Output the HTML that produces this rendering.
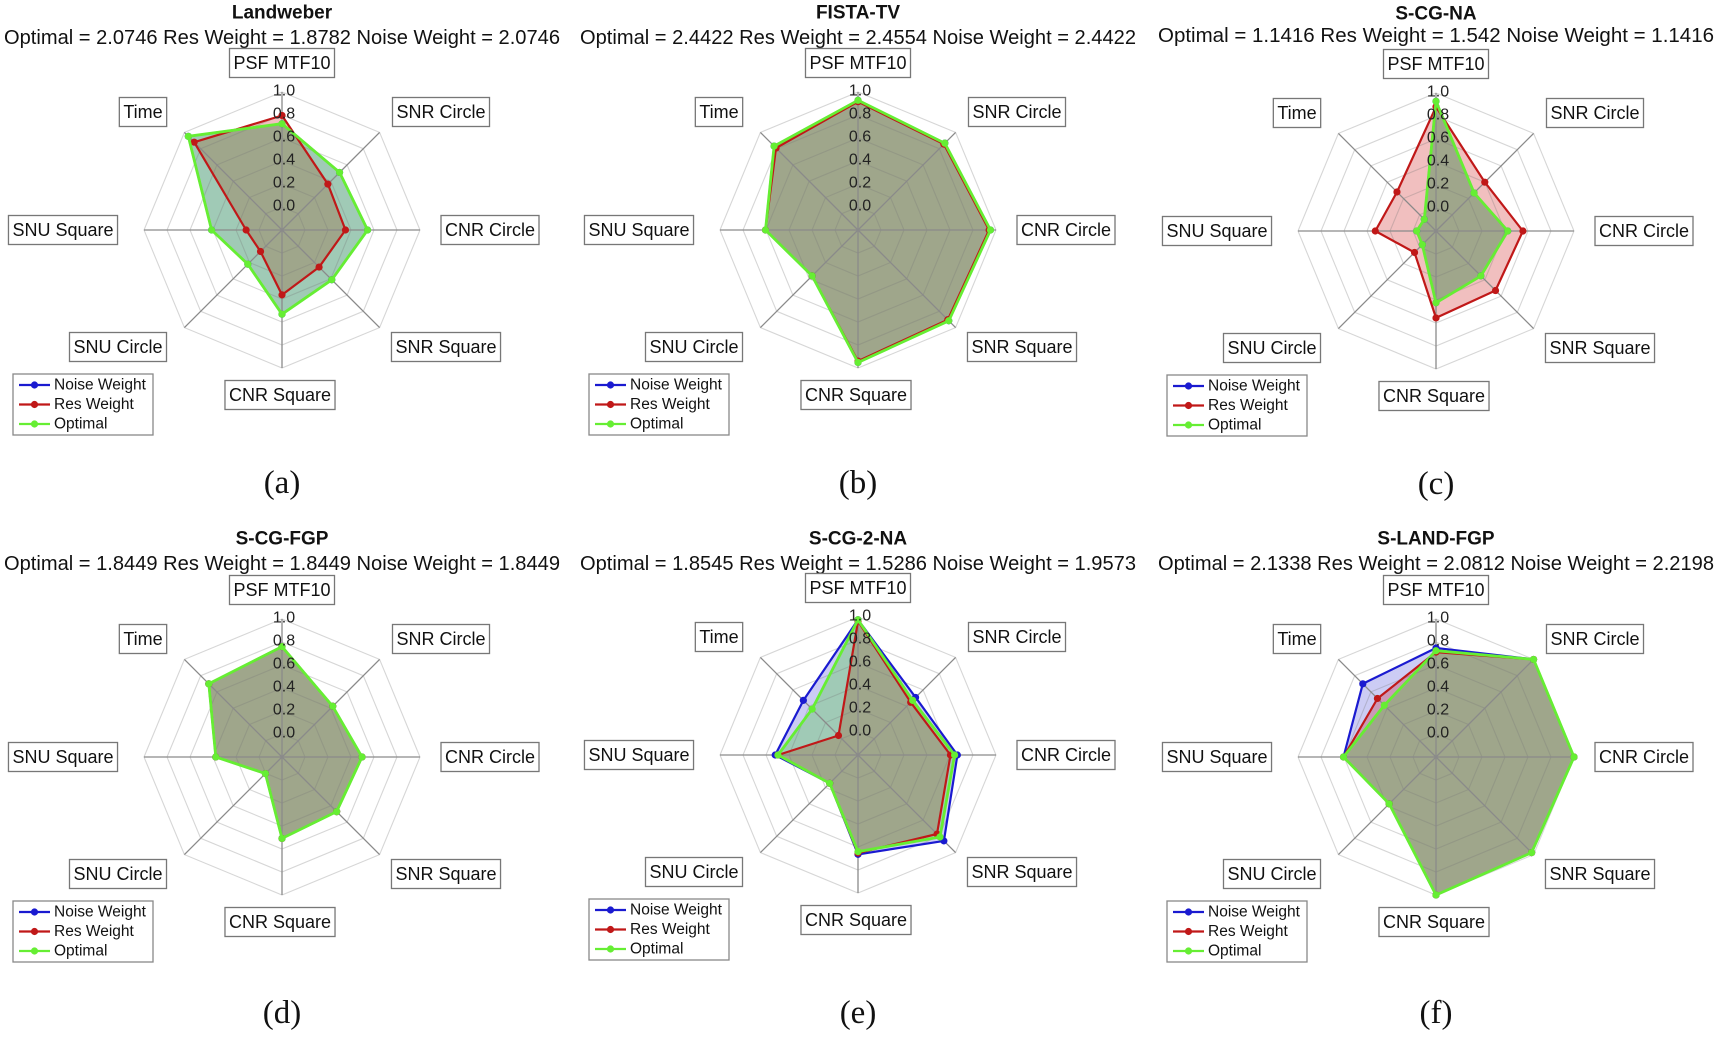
<!DOCTYPE html>
<html><head><meta charset="utf-8"><style>
html,body{margin:0;padding:0;background:#fff;}
svg{display:block;font-family:"Liberation Sans",sans-serif;}
.lab{font-size:18px;fill:#111;text-anchor:middle;dominant-baseline:central;}
.tk{font-size:16px;fill:#222;text-anchor:middle;dominant-baseline:central;}
.tt{font-size:19px;font-weight:bold;fill:#111;text-anchor:middle;dominant-baseline:central;}
.st{font-size:20px;fill:#111;text-anchor:middle;dominant-baseline:central;}
.cap{font-family:"Liberation Serif",serif;font-size:33px;fill:#111;text-anchor:middle;dominant-baseline:central;}
.lg{font-size:15.5px;fill:#111;dominant-baseline:central;}
</style></head><body>
<svg id="s" width="1718" height="1041" viewBox="0 0 1718 1041" xmlns="http://www.w3.org/2000/svg">
<g id="p0" transform="translate(282,230)">
<text class="tt" x="0" y="-217">Landweber</text>
<text class="st" x="0" y="-192" textLength="556" lengthAdjust="spacingAndGlyphs">Optimal = 2.0746  Res Weight = 1.8782  Noise Weight = 2.0746</text>
<text class="cap" x="0" y="253">(a)</text>
</g>
<g id="p1" transform="translate(858,230)">
<text class="tt" x="0" y="-217">FISTA-TV</text>
<text class="st" x="0" y="-192" textLength="556" lengthAdjust="spacingAndGlyphs">Optimal = 2.4422  Res Weight = 2.4554  Noise Weight = 2.4422</text>
<text class="cap" x="0" y="253">(b)</text>
</g>
<g id="p2" transform="translate(1436,231)">
<text class="tt" x="0" y="-217">S-CG-NA</text>
<text class="st" x="0" y="-195" textLength="556" lengthAdjust="spacingAndGlyphs">Optimal = 1.1416  Res Weight = 1.542  Noise Weight = 1.1416</text>
<text class="cap" x="0" y="253">(c)</text>
</g>
<g id="p3" transform="translate(282,757)">
<text class="tt" x="0" y="-218">S-CG-FGP</text>
<text class="st" x="0" y="-193" textLength="556" lengthAdjust="spacingAndGlyphs">Optimal = 1.8449  Res Weight = 1.8449  Noise Weight = 1.8449</text>
<text class="cap" x="0" y="256">(d)</text>
</g>
<g id="p4" transform="translate(858,755)">
<text class="tt" x="0" y="-216">S-CG-2-NA</text>
<text class="st" x="0" y="-191" textLength="556" lengthAdjust="spacingAndGlyphs">Optimal = 1.8545  Res Weight = 1.5286  Noise Weight = 1.9573</text>
<text class="cap" x="0" y="258">(e)</text>
</g>
<g id="p5" transform="translate(1436,757)">
<text class="tt" x="0" y="-218">S-LAND-FGP</text>
<text class="st" x="0" y="-193" textLength="556" lengthAdjust="spacingAndGlyphs">Optimal = 2.1338  Res Weight = 2.0812  Noise Weight = 2.2198</text>
<text class="cap" x="0" y="256">(f)</text>
</g>
</svg>
<script>
var NS="http://www.w3.org/2000/svg";
function el(t,a,p){var e=document.createElementNS(NS,t);for(var k in a)e.setAttribute(k,a[k]);if(p)p.appendChild(e);return e;}
var R=138;
var labs=[["PSF MTF10",0,-167],["SNR Circle",159,-118],["CNR Circle",208,0],["SNR Square",164,117],["CNR Square",-2,165],["SNU Circle",-164,117],["SNU Square",-219,0],["Time",-139,-118]];
var data=[
 {b:[.77,.59,.62,.51,.61,.35,.51,.96],r:[.83,.47,.46,.38,.47,.22,.26,.90],g:[.77,.59,.62,.51,.61,.35,.51,.96]},
 {b:[.94,.89,.96,.93,.96,.47,.67,.86],r:[.93,.88,.95,.92,.95,.47,.67,.84],g:[.94,.89,.96,.93,.96,.47,.67,.86]},
 {b:[.94,.39,.52,.46,.52,.14,.14,.12],r:[.90,.50,.63,.61,.63,.22,.44,.40],g:[.94,.39,.52,.46,.52,.14,.14,.12]},
 {b:[.80,.52,.58,.56,.59,.17,.48,.75],r:[.80,.52,.58,.56,.59,.17,.48,.75],g:[.80,.52,.58,.56,.59,.17,.48,.75]},
 {b:[.98,.59,.72,.88,.72,.29,.60,.56],r:[.97,.54,.67,.81,.71,.29,.58,.20],g:[.98,.56,.70,.84,.70,.29,.58,.47]},
 {b:[.79,1.0,1.0,.98,1.0,.48,.67,.75],r:[.76,1.0,1.0,.98,1.0,.48,.67,.60],g:[.77,1.0,1.0,.98,1.0,.48,.67,.53]}
];
function pt(i,f){var a=(-90+45*i)*Math.PI/180;return [f*R*Math.cos(a),f*R*Math.sin(a)];}
function poly(v){return v.map(function(f,i){return pt(i,f).map(function(x){return x.toFixed(1)}).join(",")}).join(" ");}
for(var p=0;p<6;p++){
 var g=document.getElementById("p"+p);
 var first=g.firstChild;
 var gr=el("g",{});g.insertBefore(gr,first);
 var d=data[p];
 el("polygon",{points:poly(d.b),fill:"rgba(0,0,200,0.2)",stroke:"none"},gr);
 el("polygon",{points:poly(d.r),fill:"rgba(200,0,0,0.25)",stroke:"none"},gr);
 el("polygon",{points:poly(d.g),fill:"rgba(60,200,40,0.3)",stroke:"none"},gr);
 for(var k=1;k<=6;k++){el("polygon",{points:poly([1,1,1,1,1,1,1,1].map(function(){return k/6})),fill:"none",stroke:"rgba(120,120,120,0.3)","stroke-width":1.1},gr);}
 for(var i=0;i<8;i++){var q=pt(i,1);el("line",{x1:0,y1:0,x2:q[0],y2:q[1],stroke:"#8a8a8a","stroke-width":1.3},gr);}
 var ser=[[d.b,"#1a1ad0",2.2],[d.r,"#c01818",2.2],[d.g,"#66ee33",2.8]];
 ser.forEach(function(s){el("polygon",{points:poly(s[0]),fill:"none",stroke:s[1],"stroke-width":s[2],"stroke-linejoin":"round"},gr);
  s[0].forEach(function(f,i){var q=pt(i,f);el("circle",{cx:q[0],cy:q[1],r:3.6,fill:s[1]},gr);});});
 var tl=["0.0","0.2","0.4","0.6","0.8","1.0"];
 for(var k=0;k<6;k++){var t=el("text",{"class":"tk",x:2,y:-(k+1)*R/6-1},gr);t.textContent=tl[k];}
 labs.forEach(function(L){var t=el("text",{"class":"lab",x:L[1],y:L[2]},g);t.textContent=L[0];
  var bb=t.getBBox();el("rect",{x:bb.x-4,y:L[2]-14.5,width:bb.width+8,height:29,fill:"#fff",stroke:"#777","stroke-width":1.3},g).parentNode.insertBefore(g.lastChild,t);});
 var lg=el("g",{},g);
 el("rect",{x:-269,y:144,width:140,height:61,fill:"#fff",stroke:"#888","stroke-width":1.3},lg);
 [["Noise Weight","#1a1ad0"],["Res Weight","#c01818"],["Optimal","#66ee33"]].forEach(function(e,j){
  var y=155+j*19.5;el("line",{x1:-263,y1:y,x2:-232,y2:y,stroke:e[1],"stroke-width":2.2},lg);
  el("circle",{cx:-247.5,cy:y,r:3.6,fill:e[1]},lg);
  var t=el("text",{"class":"lg",x:-228,y:y},lg);t.textContent=e[0];});
}
</script>
</body></html>
